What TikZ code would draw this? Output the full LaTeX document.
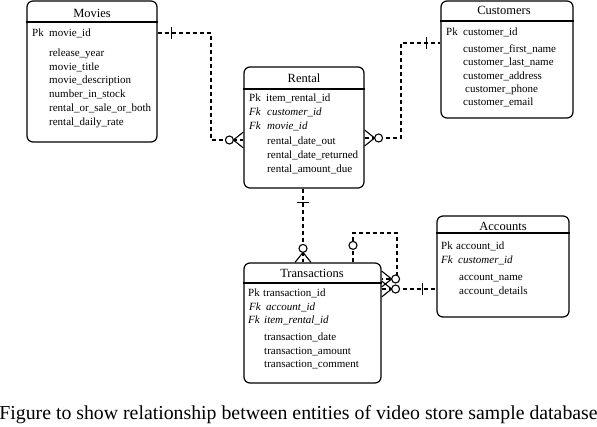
\documentclass[tikz,border=0pt]{standalone}
\usepackage{fontspec}
\setmainfont{Liberation Serif}

\begin{document}
\begin{tikzpicture}[
	x=1pt, y=-1pt,
	entity/.style={draw, line width=1.2pt, rounded corners=6pt, inner sep=0pt},
	etitle/.style={font=\fontsize{12.5}{14}\selectfont, inner sep=0pt},
	field/.style={font=\fontsize{11}{13}\selectfont, anchor=base west, inner sep=0pt},
	rel/.style={line width=1.1pt, dash pattern=on 4pt off 3pt},
	one/.pic={\draw[solid, line width=1.1pt] (14,-6) -- (14,6);},
	zmany/.pic={\draw[solid, line width=1.1pt] (0,-8) -- (10,0) -- (0,8);
		\draw[solid, line width=1.1pt, fill=white] (14,0) circle (4);},
	zero/.pic={\draw[solid, line width=1.1pt, fill=white] (17,0) circle (4);}
]
	\useasboundingbox (0,0) rectangle (597,426);

	% entities
	\node[entity, minimum width=130, minimum height=141] (movies) at (92,71.5) {};
	\node[etitle] (moviesT) at (92,13) {Movies};
	\draw[line width=1.2pt] (movies.west |- 0,22) -- (movies.east |- 0,22);
	\node[field] (moviesPk) at (32,36.5) {Pk};
	\node[field] (moviesK1) at (49,36.5) {movie\_id};
	\foreach \f [count=\i] in {release\_year, movie\_title, movie\_description,
		number\_in\_stock, rental\_or\_sale\_or\_both, rental\_daily\_rate}
		\node[field] (moviesF\i) at (49,{56.5+13.7*(\i-1)}) {\f};

	\node[entity, minimum width=120, minimum height=121] (rental) at (304,127.5) {};
	\node[etitle] (rentalT) at (304,78) {Rental};
	\draw[line width=1.2pt] (rental.west |- 0,89) -- (rental.east |- 0,89);
	\node[field] (rentalPk) at (249,101.5) {Pk};
	\node[field] (rentalK1) at (266,101.5) {item\_rental\_id};
	\node[field] (rentalFk1) at (249,115.5) {\itshape Fk};
	\node[field] (rentalK2) at (267,115.5) {\itshape customer\_id};
	\node[field] (rentalFk2) at (249,129.5) {\itshape Fk};
	\node[field] (rentalK3) at (267,129.5) {\itshape movie\_id};
	\foreach \f [count=\i] in {rental\_date\_out, rental\_date\_returned, rental\_amount\_due}
		\node[field] (rentalF\i) at (267,{144.5+14*(\i-1)}) {\f};

	\node[entity, minimum width=132, minimum height=117] (customers) at (507,59.5) {};
	\node[etitle] (customersT) at (504,10.5) {Customers};
	\draw[line width=1.2pt] (customers.west |- 0,21) -- (customers.east |- 0,21);
	\node[field] (customersPk) at (446,35.5) {Pk};
	\node[field] (customersK1) at (463,35.5) {customer\_id};
	\foreach \f [count=\i] in {customer\_first\_name, customer\_last\_name,
		customer\_address, \hspace{2pt}customer\_phone, customer\_email}
		\node[field] (customersF\i) at (463,{52.5+13.3*(\i-1)}) {\f};

	\node[entity, minimum width=137, minimum height=120] (trans) at (312.5,323) {};
	\node[etitle] (transT) at (312,273) {Transactions};
	\draw[line width=1.2pt] (trans.west |- 0,283) -- (trans.east |- 0,283);
	\node[field] (transPk) at (248,296.5) {Pk};
	\node[field] (transK1) at (263,296.5) {transaction\_id};
	\node[field] (transFk1) at (249,310.5) {\itshape Fk};
	\node[field] (transK2) at (266,310.5) {\itshape account\_id};
	\node[field] (transFk2) at (248,323.5) {\itshape Fk};
	\node[field] (transK3) at (264,323.5) {\itshape item\_rental\_id};
	\foreach \f [count=\i] in {transaction\_date, transaction\_amount, transaction\_comment}
		\node[field] (transF\i) at (264,{340.5+13.5*(\i-1)}) {\f};

	\node[entity, minimum width=132, minimum height=101] (accounts) at (503,266.5) {};
	\node[etitle] (accountsT) at (503,226) {Accounts};
	\draw[line width=1.2pt] (accounts.west |- 0,233) -- (accounts.east |- 0,233);
	\node[field] (accountsPk) at (441,249.5) {Pk};
	\node[field] (accountsK1) at (456,249.5) {account\_id};
	\node[field] (accountsFk1) at (441,263.5) {\itshape Fk};
	\node[field] (accountsK2) at (458,263.5) {\itshape customer\_id};
	\foreach \f [count=\i] in {account\_name, account\_details}
		\node[field] (accountsF\i) at (459,{280.5+14*(\i-1)}) {\f};

	% relationships
	\draw[rel] (movies.east |- 0,33) -| (211,140) -- (rental.west |- 0,140);
	\pic at (movies.east |- 0,33) {one};
	\pic[rotate=180] at (rental.west |- 0,140) {zmany};

	\draw[rel] (rental.east |- 0,138) -| (401,43) -- (customers.west |- 0,43);
	\pic at (rental.east |- 0,138) {zmany};
	\pic[rotate=180] at (customers.west |- 0,43) {one};

	\draw[rel] (303,0 |- rental.south) -- (303,0 |- trans.north);
	\pic[rotate=-90] at (303,0 |- rental.south) {one};
	\pic[rotate=90] at (303,0 |- trans.north) {zmany};

	\draw[rel] (353,0 |- trans.north) |- (397,233) |- (trans.east |- 0,279);
	\pic[rotate=90] at (353,0 |- trans.north) {zero};
	\pic at (trans.east |- 0,279) {zmany};

	\draw[rel] (trans.east |- 0,289) -- (accounts.west |- 0,289);
	\pic at (trans.east |- 0,289) {zmany};
	\pic[rotate=180] at (accounts.west |- 0,289) {one};

	% caption
	\node[font=\fontsize{19.8}{22}\selectfont, inner sep=0pt] (caption) at (298.5,414.5)
		{Figure to show relationship between entities of video store sample database};
\end{tikzpicture}
\end{document}
